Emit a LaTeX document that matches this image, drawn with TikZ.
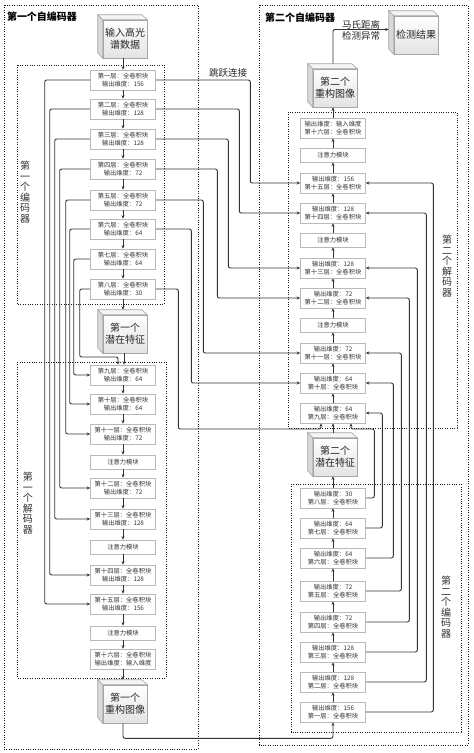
\documentclass[tikz,border=0pt]{standalone}
\usepackage{fontspec}
\setmainfont{Noto Sans CJK SC}
\usetikzlibrary{arrows.meta,calc}

\newcommand{\cubesides}[1]{%
  \filldraw[cubetop] (#1.north west) -- ++(-5,-5) -- ++(44,0) -- (#1.north east) -- cycle;
  \filldraw[cubeleft] (#1.north west) -- ++(-5,-5) -- ++(0,38) -- (#1.south west) -- cycle;
}

\begin{document}
\begin{tikzpicture}[x=1pt,y=-1pt,
  layerbox/.style={draw=gray!55, fill=white, line width=0.6pt, minimum width=65pt, minimum height=20pt,
    inner sep=1pt, align=center, font=\fontsize{6.3}{7.6}\selectfont, text=black!80},
  attbox/.style={layerbox, minimum height=14pt},
  cube/.style={draw=gray!70, line width=0.6pt, top color=white, bottom color=gray!22, minimum width=44pt,
    minimum height=38pt, inner sep=0pt, align=center, font=\fontsize{10}{12}\selectfont, text=black!85},
  cubetop/.style={draw=gray!70, line width=0.6pt, fill=gray!8},
  cubeleft/.style={draw=gray!70, line width=0.6pt, fill=gray!30},
  dotbox/.style={draw=black!90, line width=1pt, dash pattern=on 1pt off 1.4pt},
  flow/.style={draw=black!80, line width=0.9pt, -{Stealth[length=3.5pt,width=3pt]}},
  skip/.style={flow, rounded corners=2pt},
  vlabel/.style={align=center, inner sep=0pt, font=\fontsize{10}{10.5}\selectfont, text=black!80},
  title/.style={inner sep=0pt, font=\fontsize{10}{12}\selectfont\bfseries},
  note/.style={inner sep=0pt, font=\fontsize{9.5}{11.5}\selectfont, text=black!85}]
\useasboundingbox (0,0) rectangle (474,753);
\fill[white] (0,0) rectangle (474,753);

\draw[dotbox] (4,5) rectangle (198,749);
\draw[dotbox] (259,5) rectangle (468,745);
\draw[dotbox] (17,65) rectangle (164,304);
\draw[dotbox] (17,362) rectangle (166,678);
\draw[dotbox] (288,112) rectangle (457,428);
\draw[dotbox] (291,484) rectangle (461,732);

\node[title] (t1) at (42,17) {第一个自编码器};
\node[title] (t2) at (300,18) {第二个自编码器};
\node[vlabel] (lenc) at (25,192) {第\\一\\个\\编\\码\\器};
\node[vlabel] (ldec) at (28,503) {第\\一\\个\\解\\码\\器};
\node[vlabel] (rdec) at (447,266) {第\\二\\个\\解\\码\\器};
\node[vlabel] (renc) at (446,607) {第\\二\\个\\编\\码\\器};
\node[note] (skiptxt) at (228,73) {跳跃连接};
\node[note] (mdist1) at (361,24.5) {马氏距离};
\node[note] (mdist2) at (361,36) {检测异常};

\node[cube] (in) at (125,39) {输入高光\\谱数据};
\cubesides{in}
\node[layerbox] (e1) at (123,80) {第一层：全卷积块\\输出维度：156};
\node[layerbox] (e2) at (123,109) {第二层：全卷积块\\输出维度：128};
\node[layerbox] (e3) at (123,139) {第三层：全卷积块\\输出维度：128};
\node[layerbox] (e4) at (123,169) {第四层：全卷积块\\输出维度：72};
\node[layerbox] (e5) at (123,200) {第五层：全卷积块\\输出维度：72};
\node[layerbox] (e6) at (123,229) {第六层：全卷积块\\输出维度：64};
\node[layerbox] (e7) at (123,259) {第七层：全卷积块\\输出维度：64};
\node[layerbox] (e8) at (123,289) {第八层：全卷积块\\输出维度：30};
\node[cube] (lat1) at (125,334) {第一个\\潜在特征};
\cubesides{lat1}
\node[layerbox] (d9) at (123,375) {第九层：全卷积块\\输出维度：64};
\node[layerbox] (d10) at (123,404) {第十层：全卷积块\\输出维度：64};
\node[layerbox] (d11) at (123,434) {第十一层：全卷积块\\输出维度：72};
\node[attbox] (a1) at (123,462) {注意力模块};
\node[layerbox] (d12) at (123,488) {第十二层：全卷积块\\输出维度：72};
\node[layerbox] (d13) at (123,519) {第十三层：全卷积块\\输出维度：128};
\node[attbox] (a2) at (123,547) {注意力模块};
\node[layerbox] (d14) at (123,575) {第十四层：全卷积块\\输出维度：128};
\node[layerbox] (d15) at (123,604) {第十五层：全卷积块\\输出维度：156};
\node[attbox] (a3) at (123,633) {注意力模块};
\node[layerbox] (d16) at (123,659) {第十六层：全卷积块\\输出维度：输入维度};
\node[cube] (rec1) at (125,704) {第一个\\重构图像};
\cubesides{rec1}

\node[cube] (det) at (416,35) {检测结果};
\cubesides{det}
\node[cube] (rec2) at (335,88) {第二个\\重构图像};
\cubesides{rec2}
\node[layerbox] (r16) at (333,128) {输出维度：输入维度\\第十六层：全卷积块};
\node[attbox] (b3) at (333,155) {注意力模块};
\node[layerbox] (r15) at (333,183) {输出维度：156\\第十五层：全卷积块};
\node[layerbox] (r14) at (333,213) {输出维度：128\\第十四层：全卷积块};
\node[attbox] (b2) at (333,240) {注意力模块};
\node[layerbox] (r13) at (333,268) {输出维度：128\\第十三层：全卷积块};
\node[layerbox] (r12) at (333,298) {输出维度：72\\第十二层：全卷积块};
\node[attbox] (b1) at (333,325) {注意力模块};
\node[layerbox] (r11) at (333,353) {输出维度：72\\第十一层：全卷积块};
\node[layerbox] (r10) at (333,383) {输出维度：64\\第十层：全卷积块};
\node[layerbox] (r9) at (333,413) {输出维度：64\\第九层：全卷积块};
\node[cube] (lat2) at (335,457) {第二个\\潜在特征};
\cubesides{lat2}
\node[layerbox] (s8) at (333,498) {输出维度：30\\第八层：全卷积块};
\node[layerbox] (s7) at (333,528) {输出维度：64\\第七层：全卷积块};
\node[layerbox] (s6) at (333,558) {输出维度：64\\第六层：全卷积块};
\node[layerbox] (s5) at (333,591) {输出维度：72\\第五层：全卷积块};
\node[layerbox] (s4) at (333,622) {输出维度：72\\第四层：全卷积块};
\node[layerbox] (s3) at (333,652) {输出维度：128\\第三层：全卷积块};
\node[layerbox] (s2) at (333,682) {输出维度：128\\第二层：全卷积块};
\node[layerbox] (s1) at (333,712) {输出维度：156\\第一层：全卷积块};

\coordinate (lat1top) at ($(lat1.north)+(-2,-5)$);
\coordinate (rec1top) at ($(rec1.north)+(-2,-5)$);
\coordinate (lat2top) at ($(lat2.north)+(-2,-5)$);
\coordinate (rec2top) at ($(rec2.north)+(-2,-5)$);
\coordinate (detin) at ($(det.west)+(-5,-5.5)$);

\draw[flow] (in.south -| e1) -- (e1.north);
\draw[flow] (e1) -- (e2);
\draw[flow] (e2) -- (e3);
\draw[flow] (e3) -- (e4);
\draw[flow] (e4) -- (e5);
\draw[flow] (e5) -- (e6);
\draw[flow] (e6) -- (e7);
\draw[flow] (e7) -- (e8);
\draw[flow] (e8.south) -- (lat1top);
\draw[flow] ([xshift=1pt]lat1.south -| d9) -- ([xshift=1pt]d9.north);
\draw[flow] (d9) -- (d10);
\draw[flow] (d10) -- (d11);
\draw[flow] (d11) -- (a1);
\draw[flow] (a1) -- (d12);
\draw[flow] (d12) -- (d13);
\draw[flow] (d13) -- (a2);
\draw[flow] (a2) -- (d14);
\draw[flow] (d14) -- (d15);
\draw[flow] (d15) -- (a3);
\draw[flow] (a3) -- (d16);
\draw[flow] (d16.south) -- (rec1top);
\draw[skip] (rec1.south -| d16) -- ++(0,15) -| (s1.south);

\draw[flow] (s1) -- (s2);
\draw[flow] (s2) -- (s3);
\draw[flow] (s3) -- (s4);
\draw[flow] (s4) -- (s5);
\draw[flow] (s5) -- (s6);
\draw[flow] (s6) -- (s7);
\draw[flow] (s7) -- (s8);
\draw[flow] (s8.north) -- (lat2.south -| s8);
\draw[flow] (lat2top) -- (r9.south);
\draw[flow] (r9) -- (r10);
\draw[flow] (r10) -- (r11);
\draw[flow] (r11) -- (b1);
\draw[flow] (b1) -- (r12);
\draw[flow] (r12) -- (r13);
\draw[flow] (r13) -- (b2);
\draw[flow] (b2) -- (r14);
\draw[flow] (r14) -- (r15);
\draw[flow] (r15) -- (b3);
\draw[flow] (b3) -- (r16);
\draw[flow] (r16.north) -- (rec2.south -| r16);
\draw[skip] (rec2top) |- (detin);

\draw[skip] (e1.west) -- ++(-45.5,0) |- (d15.west);
\draw[skip] (e2.west) -- ++(-40.5,0) |- (d14.west);
\draw[skip] (e3.west) -- ++(-35.5,0) |- (d13.west);
\draw[skip] (e4.west) -- ++(-30.5,0) |- (d12.west);
\draw[skip] (e5.west) -- ++(-24.5,0) |- (d11.west);
\draw[skip] (e6.west) -- ++(-20.5,0) |- (d10.west);
\draw[skip] (e7.west) -- ++(-16.5,0) |- (d9.west);
\draw[skip] (e8.west) -- ++(-10.5,0) -- ++(0,68) -| ([xshift=-5pt]d9.north);

\draw[skip] (e1.east) -- ++(94.5,0) |- (r15.west);
\draw[skip] (e2.east) -- ++(83.5,0) |- (r14.west);
\draw[skip] (e3.east) -- ++(72.5,0) |- (r13.west);
\draw[skip] (e4.east) -- ++(61.5,0) |- (r12.west);
\draw[skip] (e5.east) -- ++(47.5,0) |- (r11.west);
\draw[skip] (e6.east) -- ++(35.5,0) |- (r10.west);
\draw[skip] (e8.east) -- ++(22.5,0) -- ++(0,140) -| ([xshift=-12pt]r9.south);

\draw[skip] (s1.east) -- ++(67.5,0) |- (r15.east);
\draw[skip] (s2.east) -- ++(60.5,0) |- (r14.east);
\draw[skip] (s3.east) -- ++(51.5,0) |- (r13.east);
\draw[skip] (s4.east) -- ++(43.5,0) |- (r12.east);
\draw[skip] (s5.east) -- ++(35.5,0) |- (r11.east);
\draw[skip] (s6.east) -- ++(27.5,0) |- (r10.east);
\draw[skip] (s7.east) -- ++(16.5,0) |- (r9.east);
\draw[skip] (s8.east) -- ++(8.5,0) -- ++(0,-69) -| ([xshift=18pt]r9.south);
\end{tikzpicture}
\end{document}
